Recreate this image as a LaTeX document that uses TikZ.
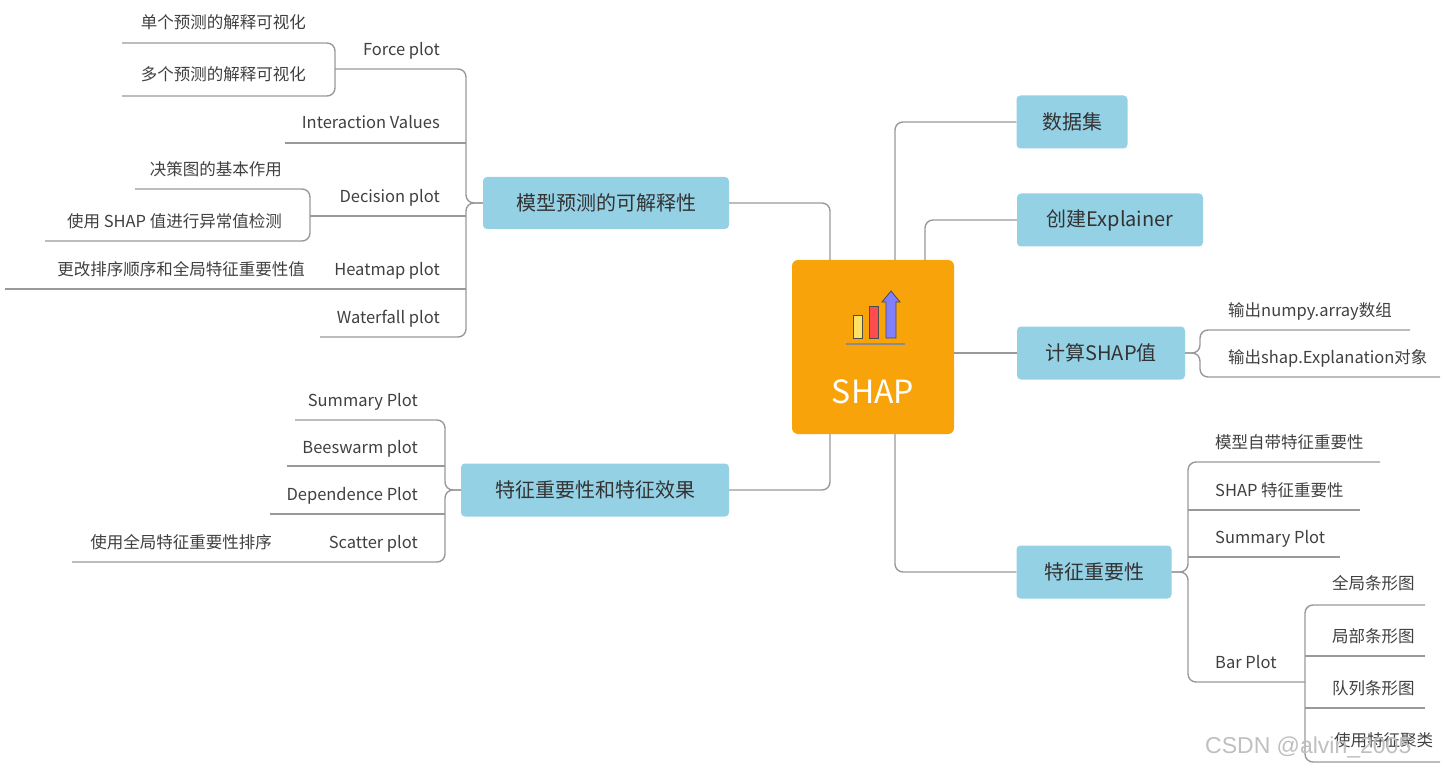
\documentclass[tikz,border=0pt]{standalone}
\usepackage{fontspec}
\setmainfont{Noto Sans CJK SC}
\newfontfamily\wmfont{Liberation Sans}
\begin{document}
\begin{tikzpicture}[x=1pt,y=-1pt,
  conn/.style={draw=black!40,line width=1.4pt,rounded corners=8pt},
  topic/.style={rounded corners=4pt,font=\fontsize{20}{23}\selectfont,text=black!80,inner sep=0pt},
  lt/.style={anchor=base east,font=\fontsize{16.5}{19}\selectfont,text=black!75,inner sep=0pt},
  rt/.style={anchor=base west,font=\fontsize{16.5}{19}\selectfont,text=black!75,inner sep=0pt}]
\definecolor{topicc}{HTML}{94D1E5}
\definecolor{shapc}{HTML}{F8A30A}
\tikzset{topic/.append style={fill=topicc}}
\useasboundingbox (0,0) rectangle (1446,770);
% center
\node[fill=shapc,rounded corners=6pt,minimum width=162pt,minimum height=174pt,inner sep=0pt] (shap) at (873,347) {};
\node[text=white,font=\fontsize{32}{36}\selectfont] (shaptxt) at (873,392) {SHAP};
\draw[fill=yellow!70!orange!60,draw=black!70,line width=0.8pt] (853,315) rectangle (862,338);
\draw[fill=red!70,draw=black!70,line width=0.8pt] (869,306) rectangle (878,338);
\draw[fill=blue!50,draw=black!70,line width=0.8pt] (886,338) -- (886,302) -- (882,302) -- (891,291) -- (900,302) -- (896,302) -- (896,338) -- cycle;
\draw[black!45,line width=2.5pt] (846,344) -- (905,344);
% topics
\node[topic,minimum width=111pt,minimum height=53pt] (t1) at (1072,122) {数据集};
\node[topic,minimum width=186pt,minimum height=53pt] (t2) at (1110,220) {创建Explainer};
\node[topic,minimum width=168pt,minimum height=53pt] (t3) at (1101,353) {计算SHAP值};
\node[topic,minimum width=155pt,minimum height=53pt] (t4) at (1094,572) {特征重要性};
\node[topic,minimum width=246pt,minimum height=52pt] (t5) at (606,203) {模型预测的可解释性};
\node[topic,minimum width=268pt,minimum height=53pt] (t6) at (595,490) {特征重要性和特征效果};
\coordinate (s1) at (895,260); \coordinate (s2) at (925,260);
\coordinate (s3) at (830,260); \coordinate (s4) at (830,434); \coordinate (s5) at (895,434);
\draw[conn] (s1) |- (t1.west);
\draw[conn] (s2) |- (t2.west);
\draw[conn] (shap.east |- t3.west) -- (t3.west);
\draw[conn] (s5) |- (t4.west);
\draw[conn] (s3) |- (t5.east);
\draw[conn] (s4) |- (t6.east);
% left group 1
\draw[conn] (t5.west) -- (466,203) -- (466,69) -- (335,69);
\draw[conn] (t5.west) -- (466,203) -- (466,337) -- (320,337);
\draw[conn] (466,143) -- (285,143);
\draw[conn] (466,216) -- (310,216);
\draw[conn] (466,289) -- (5,289);
\draw[conn] (335,69) -- (335,43) -- (122,43);
\draw[conn] (335,69) -- (335,96) -- (122,96);
\draw[conn] (310,216) -- (310,189) -- (135,189);
\draw[conn] (310,216) -- (310,241) -- (45,241);
\node[lt] (a1) at (440,56) {Force plot};
\node[lt] (a2) at (440,129) {Interaction Values};
\node[lt] (a3) at (440,203) {Decision plot};
\node[lt] (a4) at (440,276) {Heatmap plot};
\node[lt] (a5) at (440,323) {Waterfall plot};
\node[lt] (a11) at (306,29) {单个预测的解释可视化};
\node[lt] (a12) at (306,81) {多个预测的解释可视化};
\node[lt] (a31) at (282,176) {决策图的基本作用};
\node[lt] (a32) at (282,228) {使用 SHAP 值进行异常值检测};
\node[lt] (a41) at (305,276) {更改排序顺序和全局特征重要性值};
% left group 2
\draw[conn] (t6.west) -- (445,490) -- (445,420) -- (295,420);
\draw[conn] (t6.west) -- (445,490) -- (445,562) -- (72,562);
\draw[conn] (445,466) -- (287,466);
\draw[conn] (445,514) -- (270,514);
\node[lt] (b1) at (418,406) {Summary Plot};
\node[lt] (b2) at (418,453) {Beeswarm plot};
\node[lt] (b3) at (418,500) {Dependence Plot};
\node[lt] (b4) at (418,548) {Scatter plot};
\node[lt] (b41) at (272,548) {使用全局特征重要性排序};
% right t3
\draw[conn] (t3.east) -- (1200,353) -- (1200,330) -- (1410,330);
\draw[conn] (t3.east) -- (1200,353) -- (1200,377) -- (1440,377);
\node[rt] (c1) at (1228,316) {输出numpy.array数组};
\node[rt] (c2) at (1228,363) {输出shap.Explanation对象};
% right t4
\draw[conn] (t4.east) -- (1188,572) -- (1188,462) -- (1380,462);
\draw[conn] (t4.east) -- (1188,572) -- (1188,682) -- (1305,682);
\draw[conn] (1188,510) -- (1360,510);
\draw[conn] (1188,557) -- (1340,557);
\draw[conn] (1305,682) -- (1305,605) -- (1425,605);
\draw[conn] (1305,682) -- (1305,762) -- (1440,762);
\draw[conn] (1305,656) -- (1425,656);
\draw[conn] (1305,708) -- (1425,708);
\node[rt] (d1) at (1215,448) {模型自带特征重要性};
\node[rt] (d2) at (1215,496) {SHAP 特征重要性};
\node[rt] (d3) at (1215,543) {Summary Plot};
\node[rt] (d4) at (1215,668) {Bar Plot};
\node[rt] (d41) at (1332,589) {全局条形图};
\node[rt] (d42) at (1332,642) {局部条形图};
\node[rt] (d43) at (1332,694) {队列条形图};
\node[rt] (d44) at (1334,746) {使用特征聚类};
\node[anchor=base west,text=black!25,font=\fontsize{23}{26}\selectfont\wmfont,inner sep=0pt] (wm) at (1205,753) {CSDN @alvin\_2005};
\end{tikzpicture}
\end{document}
